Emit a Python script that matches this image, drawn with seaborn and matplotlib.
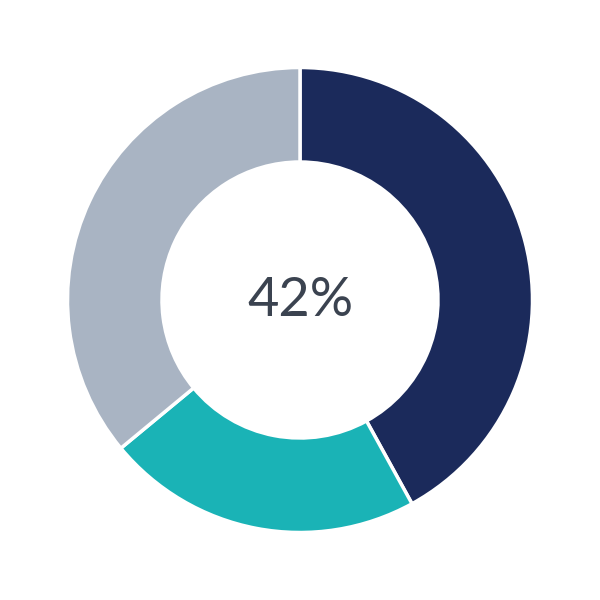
import matplotlib
matplotlib.use("Agg")
import matplotlib.pyplot as plt
import seaborn as sns

# Data
labels = ["Segment A", "Segment B", "Segment C"]
shares = [42, 22, 36]
colors = ["#1b2a5b", "#1ab3b6", "#a9b4c3"]
center_label = "42%"

sns.set_theme(style="white")
plt.rcParams['font.family'] = ['Lato', 'DejaVu Sans']

fig, ax = plt.subplots(figsize=(6, 6), dpi=100)
fig.subplots_adjust(left=0, right=1, top=1, bottom=0)

ax.pie(shares, colors=colors, startangle=90, counterclock=False,
       radius=0.775, wedgeprops=dict(width=0.315, edgecolor="white", linewidth=2.5))
ax.text(0, 0, center_label, ha="center", va="center", fontsize=39,
        color="#3b4350", fontweight="normal")
ax.set_xlim(-1, 1)
ax.set_ylim(-1, 1)
ax.set_aspect("equal")
ax.axis("off")

fig.savefig("out.png", dpi=100, facecolor="white")
